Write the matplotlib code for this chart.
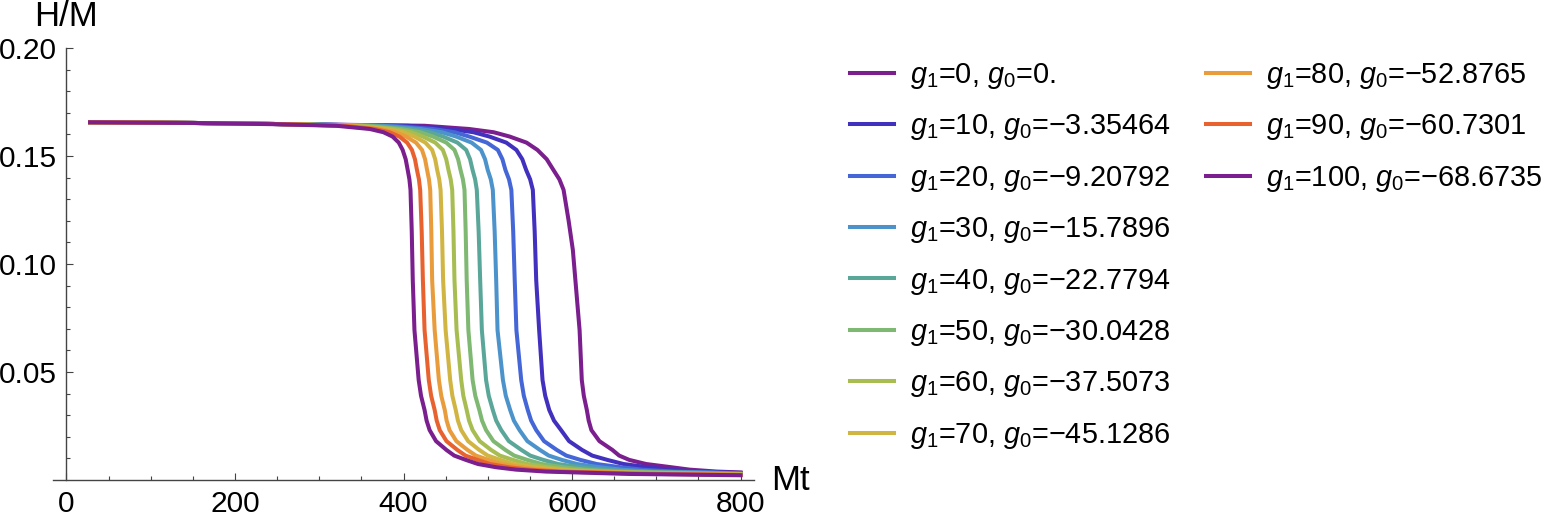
import numpy as np
import matplotlib
matplotlib.use('Agg')
import matplotlib.pyplot as plt
from matplotlib.ticker import FixedLocator

plt.rcParams['font.family'] = ['Liberation Sans', 'DejaVu Sans']
plt.rcParams['mathtext.fontset'] = 'custom'
plt.rcParams['mathtext.rm'] = 'Liberation Sans'
plt.rcParams['mathtext.it'] = 'Liberation Sans:italic'

# g1 / g0 values shown in the legend
g1_values = ['0', '10', '20', '30', '40', '50', '60', '70', '80', '90', '100']
g0_values = ['0.', '\u22123.35464', '\u22129.20792', '\u221215.7896', '\u221222.7794',
             '\u221230.0428', '\u221237.5073', '\u221245.1286', '\u221252.8765',
             '\u221260.7301', '\u221268.6735']
colors = ['#7b1f8e', '#4230bf', '#4466d6', '#4d93cb', '#5aa79a', '#7eb872',
          '#a7bd52', '#d1b543', '#e99c3b', '#e8622f', '#7b1f8e']

# curves (Mt, H/M)
mt_g1_0 = [28, 150, 250, 425, 478, 507, 526, 546, 559, 570, 578, 585, 590, 596, 601, 604, 609, 611.6, 614, 617.6,
           619.8, 623, 632.5, 648, 656, 668, 688, 718, 739.6, 772, 800]
hm_g1_0 = [.1656, .1653, .1648, .1640, .1625, .1610, .1590, .1562, .1528, .1485, .1435, .1392, .1343, .1200, .1065,
           .0926, .0694, .0463, .0390, .0324, .0275, .0231, .0180, .0139, .0113, .0093, .0074, .0059, .0048, .0039, .0035]
mt_g1_10 = [28, 150, 250, 405, 455, 483, 502, 522, 534, 541, 545.6, 550.3, 553.5, 555.7, 557.5, 561, 565, 568.2,
            573, 578.6, 587, 596.5, 612, 624, 642, 661.2, 690, 714, 750, 800]
hm_g1_10 = [.1656, .1653, .1648, .1640, .1625, .1610, .1590, .1562, .1528, .1485, .1435, .1392, .1343, .1150, .0926,
            .0694, .0463, .0390, .0324, .0275, .0231, .0180, .0139, .0113, .0093, .0074, .0059, .0048, .0039, .0033]
mt_g1_20 = [28, 150, 250, 388, 435, 460.8, 478, 499, 512, 517.4, 521, 525.2, 528, 530.2, 532, 534, 539.7, 542.8,
            547.5, 551.5, 557.5, 566.8, 582, 593.2, 610, 629.2, 658, 682.8, 720, 800]
hm_g1_20 = [.1656, .1653, .1648, .1640, .1625, .1610, .1590, .1562, .1528, .1485, .1435, .1392, .1343, .1150, .0926,
            .0694, .0463, .0390, .0324, .0275, .0231, .0180, .0139, .0113, .0093, .0074, .0059, .0048, .0039, .0031]
mt_g1_30 = [28, 150, 250, 376, 420, 445.5, 462.5, 480.8, 492, 496.8, 500, 503.6, 506, 508.2, 510, 511.6, 518, 521.4,
            526.6, 531, 537.7, 547, 562, 572.4, 588, 606, 633, 657.8, 695, 765, 800]
hm_g1_30 = [.1656, .1653, .1648, .1640, .1625, .1610, .1590, .1562, .1528, .1485, .1435, .1392, .1343, .1150, .0926,
            .0694, .0463, .0390, .0324, .0275, .0231, .0180, .0139, .0113, .0093, .0074, .0059, .0048, .0039, .0034, .0029]
mt_g1_40 = [28, 150, 250, 366, 407, 431, 447, 464, 474.4, 479, 482, 485, 487, 489.2, 491, 493, 498, 501.2,
            506, 510, 516, 525, 540, 550.4, 566, 583.6, 610, 634.8, 672, 750, 800]
hm_g1_40 = [.1656, .1653, .1648, .1640, .1625, .1610, .1590, .1562, .1528, .1485, .1435, .1392, .1343, .1150, .0926,
            .0694, .0463, .0390, .0324, .0275, .0231, .0180, .0139, .0113, .0093, .0074, .0059, .0048, .0039, .0033, .0028]
mt_g1_50 = [28, 150, 250, 358, 397, 419.8, 435, 450.8, 460.5, 464.8, 467.7, 470.5, 472.4, 473.8, 475, 477, 482, 485.2,
            490, 493.2, 498, 506.7, 521, 531.4, 547, 564.2, 590, 614.8, 652, 738, 800]
hm_g1_50 = [.1656, .1653, .1648, .1640, .1625, .1610, .1590, .1562, .1528, .1485, .1435, .1392, .1343, .1150, .0926,
            .0694, .0463, .0390, .0324, .0275, .0231, .0180, .0139, .0113, .0093, .0074, .0059, .0048, .0039, .0032, .0027]
mt_g1_60 = [28, 150, 250, 350, 388, 409, 423, 437.7, 446.7, 450.7, 453.4, 456, 457.8, 459.3, 460.5, 463, 468.5, 471,
            475, 477.8, 482, 490.4, 504, 514.4, 530, 546.8, 572, 596.4, 633, 725, 800]
hm_g1_60 = [.1656, .1653, .1648, .1640, .1625, .1610, .1590, .1562, .1528, .1485, .1435, .1392, .1343, .1150, .0926,
            .0694, .0463, .0390, .0324, .0275, .0231, .0180, .0139, .0113, .0093, .0074, .0059, .0048, .0039, .0031, .0026]
mt_g1_70 = [28, 150, 250, 342, 380, 399.8, 413, 426, 434, 437.6, 440, 442.4, 444, 445.7, 447, 450, 455.4, 458,
            462, 464.6, 468.5, 476.7, 490, 500, 515, 531, 555, 580, 617, 712, 800]
hm_g1_70 = [.1656, .1653, .1648, .1640, .1625, .1610, .1590, .1562, .1528, .1485, .1435, .1392, .1343, .1150, .0926,
            .0694, .0463, .0390, .0324, .0275, .0231, .0180, .0139, .0113, .0093, .0074, .0059, .0048, .0039, .0030, .0025]
mt_g1_80 = [28, 150, 250, 335, 372, 390.6, 403, 414.8, 422, 425.6, 428, 430.2, 431.7, 433, 434, 437, 442, 444.8,
            449, 451.2, 454.6, 462.7, 476, 486, 501, 516.6, 540, 564, 600, 700, 800]
hm_g1_80 = [.1656, .1653, .1648, .1640, .1625, .1610, .1590, .1562, .1528, .1485, .1435, .1392, .1343, .1150, .0926,
            .0694, .0463, .0390, .0324, .0275, .0231, .0180, .0139, .0113, .0093, .0074, .0059, .0048, .0039, .0030, .0024]
mt_g1_90 = [28, 150, 250, 328, 366, 383.4, 395, 404.3, 410, 413.6, 416, 418.3, 419.8, 421.6, 423, 425, 430, 432.8,
            437, 439.4, 443, 451, 464, 473.6, 488, 502.8, 525, 549, 585, 685, 800]
hm_g1_90 = [.1656, .1653, .1648, .1640, .1625, .1610, .1590, .1562, .1528, .1485, .1435, .1392, .1343, .1150, .0926,
            .0694, .0463, .0390, .0324, .0275, .0231, .0180, .0139, .0113, .0093, .0074, .0059, .0048, .0039, .0029, .0023]
mt_g1_100 = [28, 150, 250, 320, 360, 376.2, 387, 394.4, 399, 402.6, 405, 407, 408.3, 409.8, 411, 413, 418, 420.8,
             425, 427.4, 431, 438.6, 451, 460.2, 474, 488.4, 510, 533.6, 569, 668, 800]
hm_g1_100 = [.1656, .1653, .1647, .1640, .1625, .1610, .1590, .1562, .1528, .1485, .1435, .1392, .1343, .1150, .0926,
             .0694, .0463, .0390, .0324, .0275, .0231, .0180, .0139, .0113, .0093, .0074, .0059, .0048, .0039, .0028, .0022]

mt_curves = [mt_g1_0, mt_g1_10, mt_g1_20, mt_g1_30, mt_g1_40, mt_g1_50,
             mt_g1_60, mt_g1_70, mt_g1_80, mt_g1_90, mt_g1_100]
hm_curves = [hm_g1_0, hm_g1_10, hm_g1_20, hm_g1_30, hm_g1_40, hm_g1_50,
             hm_g1_60, hm_g1_70, hm_g1_80, hm_g1_90, hm_g1_100]

fs = 21.5
fig = plt.figure(figsize=(15.5, 5.17), dpi=100)
ax = fig.add_axes([53 / 1550, 37 / 517, 701 / 1550, 432 / 517])

lines = []
for mt, hm, c, a, b in zip(mt_curves, hm_curves, colors, g1_values, g0_values):
    ln, = ax.plot(mt, hm, color=c, lw=2.9, solid_joinstyle='round',
                  label='$g_1$=' + a + ', $g_0$=' + b)
    lines.append(ln)

ax.set_xlim(-16, 816)
ax.set_ylim(0, 0.2)

for s in ['top', 'right']:
    ax.spines[s].set_visible(False)
ax.spines['left'].set_position(('data', 0))
for s in ['left', 'bottom']:
    ax.spines[s].set_color('#444444')
    ax.spines[s].set_linewidth(1.0)

ax.set_xticks([0, 200, 400, 600, 800])
ax.set_xticklabels(['0', '200', '400', '600', '800'])
ax.xaxis.set_minor_locator(FixedLocator([50, 100, 150, 250, 300, 350, 450, 500, 550, 650, 700, 750]))
ax.set_yticks([0.05, 0.10, 0.15, 0.20])
ax.set_yticklabels(['0.05', '0.10', '0.15', '0.20'])
ax.yaxis.set_minor_locator(FixedLocator([i / 100 for i in range(1, 20) if i % 5 != 0]))
ax.tick_params(which='major', direction='in', length=5, width=0.8, color='#444444',
               labelsize=fs, pad=7)
ax.tick_params(which='minor', direction='in', length=3, width=0.8, color='#444444')

ax.text(0, 0.2102, 'H/M', ha='center', va='baseline', fontsize=25, clip_on=False)
ax.text(836, 0, 'Mt', ha='left', va='center', fontsize=25, clip_on=False)

leg_kw = dict(frameon=False, fontsize=20.8, handlelength=1.52, handletextpad=0.55,
              labelspacing=0.74, borderpad=0, borderaxespad=0, loc='upper left')
leg1 = fig.legend(handles=lines[:8], bbox_to_anchor=(850 / 1550, 1 - 61 / 517), **leg_kw)
leg2 = fig.legend(handles=lines[8:], bbox_to_anchor=(1206 / 1550, 1 - 61 / 517), **leg_kw)

fig.savefig('out.png', dpi=100)
